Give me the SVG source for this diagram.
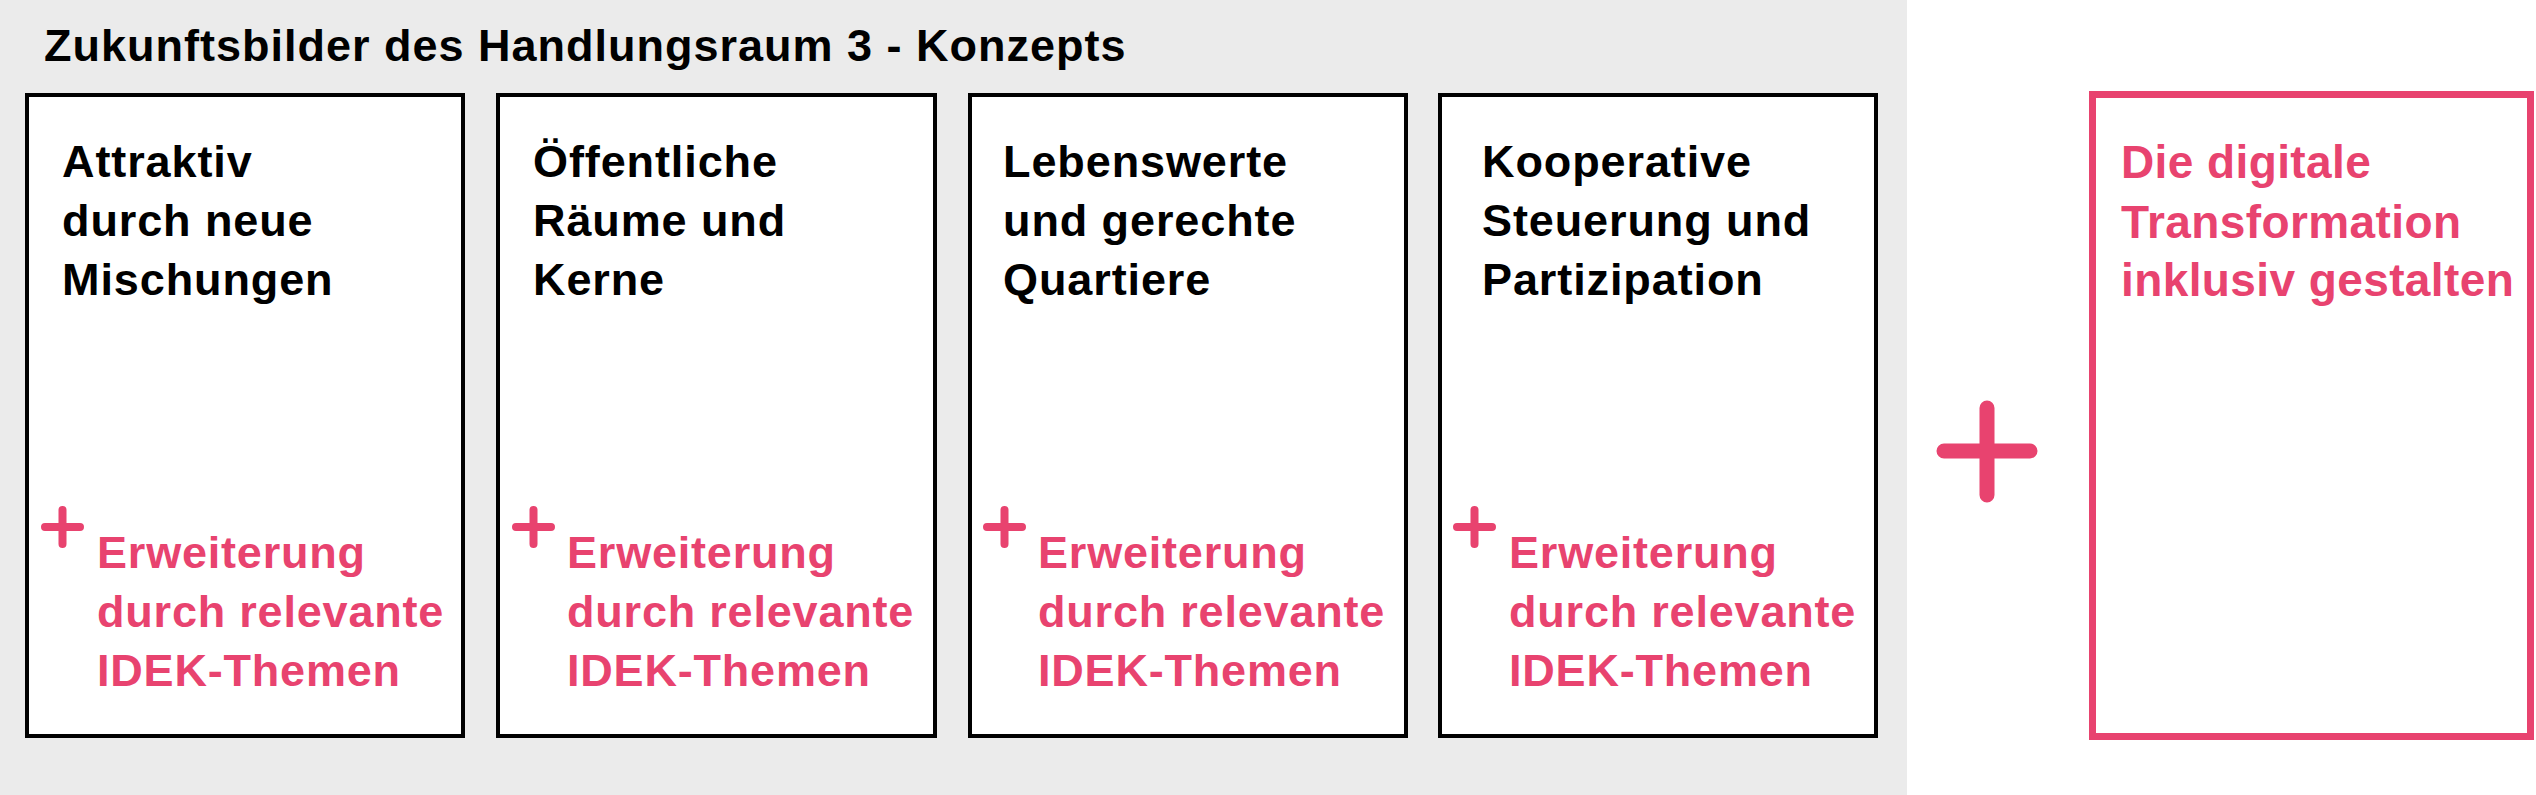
<svg xmlns="http://www.w3.org/2000/svg" width="2536" height="795" viewBox="0 0 2536 795">
  <style>
    .bg { fill: #ebebeb; }
    .card { fill: #ffffff; stroke: #000000; stroke-width: 4; }
    .pinkcard { fill: #ffffff; stroke: #e8436f; stroke-width: 7; }
    .t { font-family: "Liberation Sans", Arial, Helvetica, sans-serif; font-weight: bold; font-size: 45px; }
    .title { fill: #000000; letter-spacing: 1px; }
    .head { fill: #000000; letter-spacing: 0.9px; }
    .ext { fill: #e8436f; letter-spacing: 0.8px; }
    .digi { fill: #e8436f; font-size: 46px; letter-spacing: 0.4px; }
    .plus { stroke: #e8436f; stroke-width: 8; stroke-linecap: round; fill: none; }
    .bigplus { stroke: #e8436f; stroke-width: 15; stroke-linecap: round; fill: none; }
  </style>

  <rect x="0" y="0" width="2536" height="795" fill="#ffffff"/>
  <rect class="bg" x="0" y="0" width="1907" height="795"/>

  <g id="title">
    <text class="t title" x="44" y="61">Zukunftsbilder des Handlungsraum 3 - Konzepts</text>
  </g>

  <g id="node-attraktiv">
    <rect class="card" x="27" y="95" width="436" height="641"/>
    <text class="t head"><tspan x="62" y="177">Attraktiv</tspan><tspan x="62" y="236">durch neue</tspan><tspan x="62" y="295">Mischungen</tspan></text>
    <path class="plus" d="M45 527 H80 M62.5 510 V544"/>
    <text class="t ext"><tspan x="97" y="568">Erweiterung</tspan><tspan x="97" y="627">durch relevante</tspan><tspan x="97" y="686">IDEK-Themen</tspan></text>
  </g>

  <g id="node-oeffentliche">
    <rect class="card" x="498" y="95" width="437" height="641"/>
    <text class="t head"><tspan x="533" y="177">Öffentliche</tspan><tspan x="533" y="236">Räume und</tspan><tspan x="533" y="295">Kerne</tspan></text>
    <path class="plus" d="M516 527 H551 M533.5 510 V544"/>
    <text class="t ext"><tspan x="567" y="568">Erweiterung</tspan><tspan x="567" y="627">durch relevante</tspan><tspan x="567" y="686">IDEK-Themen</tspan></text>
  </g>

  <g id="node-lebenswerte">
    <rect class="card" x="970" y="95" width="436" height="641"/>
    <text class="t head"><tspan x="1003" y="177">Lebenswerte</tspan><tspan x="1003" y="236">und gerechte</tspan><tspan x="1003" y="295">Quartiere</tspan></text>
    <path class="plus" d="M987 527 H1022 M1004.5 510 V544"/>
    <text class="t ext"><tspan x="1038" y="568">Erweiterung</tspan><tspan x="1038" y="627">durch relevante</tspan><tspan x="1038" y="686">IDEK-Themen</tspan></text>
  </g>

  <g id="node-kooperative">
    <rect class="card" x="1440" y="95" width="436" height="641"/>
    <text class="t head"><tspan x="1482" y="177">Kooperative</tspan><tspan x="1482" y="236">Steuerung und</tspan><tspan x="1482" y="295">Partizipation</tspan></text>
    <path class="plus" d="M1457 527 H1492 M1474.5 510 V544"/>
    <text class="t ext"><tspan x="1509" y="568">Erweiterung</tspan><tspan x="1509" y="627">durch relevante</tspan><tspan x="1509" y="686">IDEK-Themen</tspan></text>
  </g>

  <g id="connectors">
    <path class="bigplus" d="M1944 451 H2030 M1987 408 V495"/>
  </g>

  <g id="node-digital">
    <rect class="pinkcard" x="2092.5" y="94.5" width="438" height="642"/>
    <text class="t digi"><tspan x="2121" y="178">Die digitale</tspan><tspan x="2121" y="238">Transformation</tspan><tspan x="2121" y="296">inklusiv gestalten</tspan></text>
  </g>
</svg>
